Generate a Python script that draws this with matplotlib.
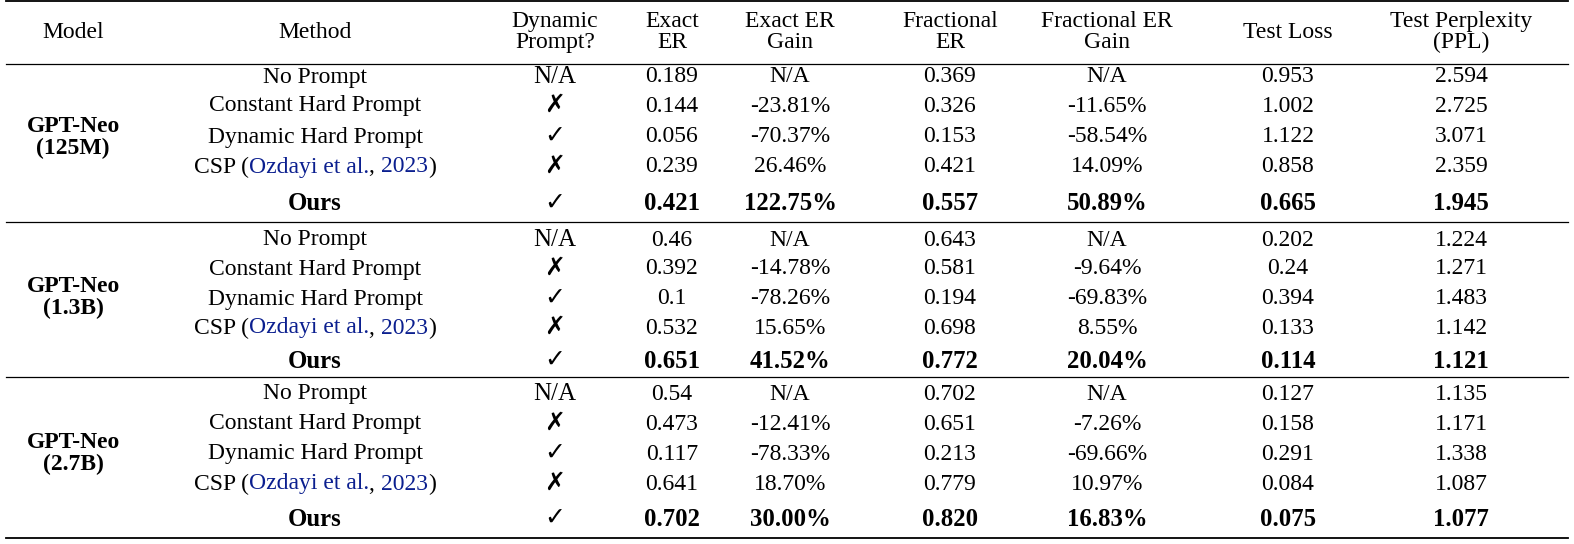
import matplotlib
matplotlib.use("Agg")
import matplotlib.pyplot as plt

models = ["GPT-Neo\n(125M)", "GPT-Neo\n(1.3B)", "GPT-Neo\n(2.7B)"]
methods = ["No Prompt", "Constant Hard Prompt", "Dynamic Hard Prompt", "CSP", "Ours"]
dynamic = ["N/A", "✗", "✓", "✗", "✓"]
exact_er = [["0.189", "0.144", "0.056", "0.239", "0.421"],
            ["0.46", "0.392", "0.1", "0.532", "0.651"],
            ["0.54", "0.473", "0.117", "0.641", "0.702"]]
exact_gain = [["N/A", "-23.81%", "-70.37%", "26.46%", "122.75%"],
              ["N/A", "-14.78%", "-78.26%", "15.65%", "41.52%"],
              ["N/A", "-12.41%", "-78.33%", "18.70%", "30.00%"]]
frac_er = [["0.369", "0.326", "0.153", "0.421", "0.557"],
           ["0.643", "0.581", "0.194", "0.698", "0.772"],
           ["0.702", "0.651", "0.213", "0.779", "0.820"]]
frac_gain = [["N/A", "-11.65%", "-58.54%", "14.09%", "50.89%"],
             ["N/A", "-9.64%", "-69.83%", "8.55%", "20.04%"],
             ["N/A", "-7.26%", "-69.66%", "10.97%", "16.83%"]]
test_loss = [["0.953", "1.002", "1.122", "0.858", "0.665"],
             ["0.202", "0.24", "0.394", "0.133", "0.114"],
             ["0.127", "0.158", "0.291", "0.084", "0.075"]]
test_ppl = [["2.594", "2.725", "3.071", "2.359", "1.945"],
            ["1.224", "1.271", "1.483", "1.142", "1.121"],
            ["1.135", "1.171", "1.338", "1.087", "1.077"]]
headers = ["Model", "Method", "Dynamic\nPrompt?", "Exact\nER", "Exact ER\nGain",
           "Fractional\nER", "Fractional ER\nGain", "Test Loss", "Test Perplexity\n(PPL)"]

FAM = ["Liberation Serif", "DejaVu Serif", "DejaVu Sans"]
FS = 17
W, H = 1574, 544
fig = plt.figure(figsize=(W/100, H/100), dpi=100)
ax = fig.add_axes([0, 0, 1, 1])
ax.set_xlim(0, W); ax.set_ylim(H, 0); ax.axis("off")

colx = [73, 315, 555, 672, 790, 950, 1107, 1288, 1461]
for x, h in zip(colx, headers):
    ax.text(x, 32, h, ha="center", va="center", fontsize=FS, family=FAM, linespacing=1.05)

rule_y = [1, 64, 222, 377, 538]
for i, y in enumerate(rule_y):
    ax.plot([6, W-6], [y, y], color="black", lw=1.3 if i in (0, 4) else 0.9)

group_rows = [[77, 106, 137, 167, 204], [240, 269, 299, 328, 361], [394, 424, 454, 484, 519]]
renderer = fig.canvas.get_renderer()
blue = "#0b1f8f"
for g in range(3):
    ys = group_rows[g]
    ax.text(colx[0], (ys[0]+ys[-1])/2 - 3, models[g], ha="center", va="center",
            fontsize=FS, family=FAM, weight="bold", linespacing=1.1)
    for r in range(5):
        y = ys[r]
        bold = r == 4
        wt = "bold" if bold else "normal"
        fs = FS+0.8 if bold else FS
        if methods[r] == "CSP":
            parts = [("CSP (", "black"), ("Ozdayi et al.", blue), (", ", "black"), ("2023", blue), (")", "black")]
            ts = [ax.text(0, y, p, ha="left", va="center", fontsize=FS, family=FAM, color=c) for p, c in parts]
            widths = [t.get_window_extent(renderer).width for t in ts]
            x0 = colx[1] - sum(widths)/2
            for t, w in zip(ts, widths):
                t.set_x(x0); x0 += w
        else:
            ax.text(colx[1], y, methods[r], ha="center", va="center", fontsize=fs, family=FAM, weight=wt)
        ax.text(colx[2], y, dynamic[r], ha="center", va="center", fontsize=FS+1, family=FAM)
        for c, arr in zip(colx[3:], [exact_er, exact_gain, frac_er, frac_gain, test_loss, test_ppl]):
            ax.text(c, y, arr[g][r], ha="center", va="center", fontsize=fs, family=FAM, weight=wt)

fig.savefig("out.png", dpi=100)
